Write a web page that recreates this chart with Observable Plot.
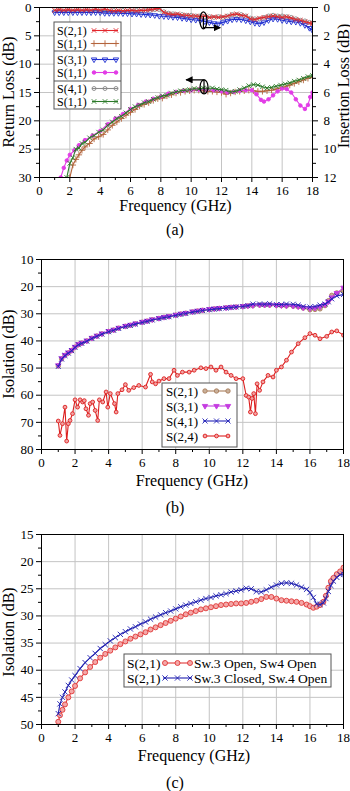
<!DOCTYPE html>
<html><head><meta charset="utf-8">
<script src="https://cdn.jsdelivr.net/npm/d3@7"></script>
<script src="https://cdn.jsdelivr.net/npm/@observablehq/plot@0.6"></script>
<style>
body{margin:0;background:#fff;width:350px;height:791px;position:relative;overflow:hidden;font-family:"Liberation Serif","DejaVu Serif",serif;}
.panel{position:absolute;left:0;width:350px;}
.cap{position:absolute;left:0;width:350px;text-align:center;font-size:16px;line-height:18px;color:#000;}
svg text{font-family:"Liberation Serif","DejaVu Serif",serif !important;}
</style></head><body>
<div id="pa" class="panel" style="top:0px"></div>
<div class="cap" style="top:221px">(a)</div>
<div id="pb" class="panel" style="top:245px"></div>
<div class="cap" style="top:499px">(b)</div>
<div id="pc" class="panel" style="top:520px"></div>
<div class="cap" style="top:774px">(c)</div>
<script>
// ---------- shared ticks ----------
const xMajor = [0,2,4,6,8,10,12,14,16,18];
const xMinor = [1,3,5,7,9,11,13,15,17];
const xLabel = "Frequency (GHz)";

// ---------- panel (a) ----------
const aYMajor = [0,5,10,15,20,25,30];
const aYMinor = [2.5,7.5,12.5,17.5,22.5,27.5];
const aILRatio = 2.5; // right axis 0..12 dB vs left 0..30 dB
const aILFreq = [1.0,1.3,1.6,1.9,2.2,2.5,2.8,3.1,3.4,3.7,4.0,4.3,4.6,4.9,5.2,5.5,5.8,6.1,6.4,6.7,7.0,7.3,7.6,7.9,8.2,8.5,8.8,9.1,9.4,9.7,10.0,10.3,10.6,10.9,11.2,11.5,11.8,12.1,12.4,12.7,13.0,13.3,13.6,13.9,14.2,14.5,14.8,15.1,15.4,15.7,16.0,16.3,16.6,16.9,17.2,17.5,17.8,18.0];
const aS21IL = [0.2,0.15,0.2,0.15,0.2,0.15,0.2,0.15,0.2,0.1,0.2,0.1,0.2,0.25,0.2,0.25,0.2,0.2,0.25,0.2,0.2,0.15,0.1,0.05,0.35,0.45,0.5,0.45,0.55,0.55,0.6,0.6,0.65,0.6,0.7,0.65,0.7,0.65,0.6,0.5,0.45,0.55,0.6,0.8,0.85,0.75,0.7,0.65,0.6,0.65,0.7,0.65,0.75,0.85,0.9,1.0,1.1,1.15];
const aS31IL = [0.35,0.35,0.35,0.35,0.35,0.35,0.35,0.35,0.35,0.35,0.35,0.4,0.4,0.4,0.4,0.42,0.42,0.45,0.45,0.48,0.5,0.52,0.55,0.6,0.62,0.65,0.68,0.7,0.75,0.8,0.85,0.88,0.92,0.98,1.05,1.12,1.15,1.05,0.95,0.85,0.82,0.85,0.92,1.0,1.1,1.15,1.05,0.9,0.8,0.82,0.9,0.95,1.0,1.02,1.1,1.25,1.45,1.62];
const aS41IL = [0.25,0.2,0.25,0.2,0.25,0.2,0.25,0.2,0.25,0.2,0.25,0.2,0.25,0.2,0.25,0.2,0.25,0.25,0.2,0.25,0.2,0.2,0.15,0.15,0.3,0.4,0.45,0.5,0.5,0.55,0.55,0.6,0.6,0.65,0.65,0.7,0.65,0.7,0.6,0.5,0.5,0.5,0.6,0.75,0.8,0.8,0.7,0.6,0.55,0.6,0.6,0.65,0.7,0.8,0.9,0.95,1.05,1.1];
const aRLFreqG = [1.8,2.0,2.2,2.4,2.6,2.8,3.0,3.3,3.6,3.9,4.2,4.5,4.8,5.1,5.4,5.7,6.0,6.3,6.6,6.9,7.2,7.5,7.8,8.1,8.4,8.7,9.0,9.3,9.6,9.9,10.2,10.5,10.8,11.1,11.4,11.7,12.0,12.3,12.6,12.9,13.2,13.5,13.8,14.1,14.4,14.7,15.0,15.3,15.6,15.9,16.2,16.5,16.8,17.1,17.4,17.7,18.0];
const aS11RL_sw4 = [30.0,27.5,26.5,25.0,24.8,24.0,23.8,23.0,22.6,22.0,21.6,20.8,20.2,19.6,19.2,18.6,18.0,17.5,17.2,16.8,16.6,16.2,15.9,15.6,15.5,15.1,14.9,14.7,14.6,14.5,14.3,14.4,14.2,14.3,14.2,14.4,14.5,14.6,14.9,14.8,14.5,14.2,13.8,13.6,13.7,14.0,14.2,14.1,13.9,13.7,13.5,13.3,13.0,12.8,12.5,12.2,12.0];
const aRLFreqB = [2.0,2.2,2.4,2.6,2.8,3.0,3.3,3.6,3.9,4.2,4.5,4.8,5.1,5.4,5.7,6.0,6.3,6.6,6.9,7.2,7.5,7.8,8.1,8.4,8.7,9.0,9.3,9.6,9.9,10.2,10.5,10.8,11.1,11.4,11.7,12.0,12.3,12.6,12.9,13.2,13.5,13.8,14.1,14.4,14.7,15.0,15.3,15.6,15.9,16.2,16.5,16.8,17.1,17.4,17.7,18.0];
const aS11RL_sw2 = [30.0,27.8,26.8,26.0,25.2,24.6,24.0,23.2,22.8,22.4,21.6,20.8,20.2,19.6,19.0,18.5,18.0,17.4,17.1,16.8,16.4,16.1,16.0,15.6,15.4,15.1,15.0,14.8,14.7,14.6,14.6,14.7,14.8,14.8,14.9,15.0,15.3,15.1,14.9,14.8,14.7,14.6,14.7,14.8,14.8,14.7,14.6,14.4,14.2,14.0,13.7,13.4,13.1,12.8,12.5,12.3];
const aRLFreqM = [1.4,1.6,1.8,2.0,2.3,2.6,3.0,3.5,4.0,4.5,5.0,5.5,6.0,6.5,7.0,7.5,8.0,8.5,9.0,9.5,10.0,10.5,11.0,11.5,12.0,12.4,12.8,13.2,13.6,14.0,14.3,14.6,14.8,15.1,15.4,15.7,16.0,16.3,16.6,16.9,17.2,17.5,17.7,17.85,18.0];
const aS11RL_sw3 = [30,28.3,27,26,25.2,24.3,23.4,22.6,21.8,20.6,19.6,18.8,17.9,17.2,16.6,16.1,15.7,15.2,14.9,14.7,14.6,14.5,14.5,14.6,14.8,15.0,14.9,14.7,14.6,14.6,15.3,16.3,16.6,16.2,15.5,14.8,14.3,14.4,15.0,16.2,17.3,17.9,17.2,15.8,15.0];

// ---------- panel (b) ----------
const bYMajor = [10,20,30,40,50,60,70,80];
const bYMinor = [15,25,35,45,55,65,75];
const bFreq = [1.0,1.2,1.4,1.6,1.8,2.0,2.2,2.4,2.7,3.0,3.3,3.6,4.0,4.3,4.6,5.0,5.3,5.6,6.0,6.3,6.6,7.0,7.3,7.6,8.0,8.3,8.6,9.0,9.3,9.6,10.0,10.3,10.6,11.0,11.3,11.6,12.0,12.3,12.6,13.0,13.3,13.6,14.0,14.3,14.6,15.0,15.3,15.6,16.0,16.3,16.6,16.9,17.1,17.3,17.6,18.0];
const bS21 = [49.2,46.6,45.3,44.4,43.5,42.3,41.3,40.8,40.0,39.0,38.2,37.4,36.5,36.0,35.3,34.6,34.2,33.7,33.1,32.7,32.2,31.7,31.3,31.0,30.5,30.1,29.8,29.3,29.0,28.7,28.4,28.2,28.0,27.8,27.6,27.5,27.3,27.1,27.0,26.8,26.8,26.8,26.9,27.0,27.1,27.2,27.4,27.9,28.5,28.4,28.2,27.0,25.2,23.2,22.3,21.4];
const bS31 = [49.0,46.4,45.2,44.3,43.4,42.2,41.2,40.7,39.9,38.9,38.1,37.3,36.4,35.9,35.2,34.5,34.1,33.6,33.0,32.6,32.1,31.6,31.2,30.9,30.4,30.0,29.7,29.2,28.9,28.6,28.3,28.1,27.9,27.7,27.5,27.4,27.2,27.0,26.9,26.7,26.7,26.7,26.8,26.9,27.0,27.1,27.3,27.7,28.0,27.8,27.4,26.6,25.5,24.0,22.4,20.4];
const bS41 = [49.4,46.7,45.4,44.5,43.6,42.4,41.4,40.9,40.1,39.1,38.3,37.5,36.6,36.1,35.4,34.7,34.3,33.8,33.2,32.8,32.3,31.8,31.4,31.1,30.6,30.2,29.9,29.4,29.1,28.8,28.5,28.3,28.1,27.9,27.7,27.5,27.3,27.0,26.4,26.4,26.5,26.3,26.6,26.6,26.4,26.5,26.8,27.3,27.5,27.3,26.8,26.4,25.6,24.5,23.4,22.9];
const bFreq24 = [1.0,1.1,1.25,1.4,1.5,1.6,1.7,1.85,2.0,2.15,2.3,2.45,2.55,2.65,2.8,2.9,3.05,3.2,3.35,3.45,3.65,3.85,3.95,4.1,4.35,4.45,4.55,4.8,5.0,5.2,5.5,5.8,6.2,6.5,6.6,6.8,7.0,7.3,7.6,7.9,8.1,8.4,8.8,9.1,9.5,9.8,10.1,10.4,10.7,11.0,11.3,11.6,12.0,12.2,12.35,12.45,12.55,12.65,12.75,12.85,13.0,13.2,13.5,13.8,14.0,14.3,14.6,14.9,15.3,15.7,16.0,16.3,16.6,17.0,17.3,17.6,18.0];
const bS24 = [69.5,74.8,70.5,64.4,76.9,70.5,69.3,66.8,61.7,64.4,61.7,62.5,62,65,67.4,63.1,62.5,65.6,69.3,61.7,62.5,58.8,64.4,59.4,63.1,66.2,59.4,58,56.1,58.2,57.2,56.4,57,52.3,55.1,55.8,54.8,53.9,53.9,50.8,52.7,51.5,51.5,50.8,49.9,50.2,49.6,50.8,49.6,51.5,52.7,53.9,53.9,60.1,60.7,66.2,61.2,59.4,66.8,55.8,58.2,55.1,52.7,53.3,50.8,49.6,47.1,44.1,41,38.8,37.3,37.9,39.2,38.3,36.7,36.3,37.9];

// ---------- panel (c) ----------
const cYMajor = [15,20,25,30,35,40,45,50];
const cYMinor = [17.5,22.5,27.5,32.5,37.5,42.5,47.5];
const cFreq = [1.0,1.1,1.25,1.4,1.6,1.8,2.0,2.3,2.6,2.9,3.2,3.5,3.8,4.1,4.4,4.7,5.0,5.3,5.6,5.9,6.2,6.5,6.8,7.1,7.4,7.7,8.0,8.3,8.6,8.9,9.2,9.5,9.8,10.1,10.4,10.7,11.0,11.3,11.6,11.9,12.2,12.5,12.8,13.1,13.4,13.7,14.0,14.3,14.6,14.9,15.2,15.5,15.8,16.0,16.2,16.4,16.6,16.8,16.95,17.1,17.25,17.4,17.6,17.8,18.0];
const cOpenOpen = [49.5,48.3,47.3,46.3,45.0,43.9,42.9,41.5,40.4,39.4,38.5,37.7,37.0,36.4,35.8,35.2,34.7,34.2,33.8,33.4,33.0,32.5,32.1,31.7,31.3,30.9,30.5,30.1,29.7,29.4,29.1,28.8,28.6,28.4,28.2,28.0,27.9,27.8,27.7,27.7,27.6,27.4,27.2,26.9,26.5,26.5,26.8,27.1,27.2,27.3,27.4,27.6,27.9,28.2,28.5,28.3,28.0,27.4,26.3,24.8,23.6,23.0,22.3,21.8,21.1];
const cClosedOpen = [48.0,46.2,45.0,44.0,42.8,41.8,41.0,39.7,38.6,37.7,36.9,36.0,35.3,34.6,34.0,33.4,32.9,32.4,32.0,31.5,31.1,30.6,30.2,29.8,29.4,29.1,28.7,28.3,28.0,27.7,27.4,27.1,26.8,26.6,26.3,26.1,25.9,25.6,25.4,25.2,24.9,25.0,25.5,25.6,25.2,24.7,24.3,24.0,23.9,24.0,24.3,24.7,25.1,25.7,26.6,27.8,27.9,27.6,26.8,25.5,24.4,23.6,22.9,22.4,22.3];

// ---------- helpers ----------
const FONT = "'Liberation Serif', 'DejaVu Serif', serif";
const GRID = "#c4c4c4";
function rows(fx, vy, k = 1) { return fx.map((f, i) => ({f, v: vy[i] * k})); }
function series(fx, vy, o) {
  const data = rows(fx, vy, o.k || 1);
  return [
    Plot.line(data, {x: "f", y: "v", stroke: o.stroke, strokeWidth: o.sw || 1.1, clip: true}),
    Plot.dot(data, {x: "f", y: "v", symbol: o.symbol, r: o.r || 2.2, stroke: o.mstroke || o.stroke,
      fill: o.fill || "none", strokeWidth: 0.9, rotate: o.rotate || 0, clip: true})
  ];
}
function base(cfg) {
  const marks = [
    Plot.gridX(xMajor, {stroke: GRID, strokeOpacity: 1}),
    Plot.gridY(cfg.yMajor, {stroke: GRID, strokeOpacity: 1}),
    ...cfg.marks,
    Plot.frame({stroke: "#000", strokeWidth: 1}),
    Plot.axisX(xMajor, {tickSize: 5, tickPadding: 3, label: null}),
    Plot.axisX(xMinor, {tickSize: 3, tickFormat: () => "", label: null}),
    Plot.axisY(cfg.yMajor, {tickSize: 5, tickPadding: 3, label: null}),
    Plot.axisY(cfg.yMinor, {tickSize: 3, tickFormat: () => "", label: null})
  ];
  if (cfg.right) {
    marks.push(Plot.axisY(cfg.yMajor, {anchor: "right", tickSize: 5, tickPadding: 6, label: null, tickFormat: cfg.right}));
    marks.push(Plot.axisY(cfg.yMinor, {anchor: "right", tickSize: 3, tickFormat: () => "", label: null}));
  }
  return Plot.plot({
    width: 350, height: cfg.height,
    marginTop: cfg.mt, marginRight: cfg.mr, marginBottom: cfg.mb, marginLeft: cfg.ml,
    x: {domain: [0, 18]},
    y: {domain: cfg.yDomain, reverse: true},
    style: {fontFamily: FONT, fontSize: "13px", color: "#000", background: "#fff", overflow: "visible"},
    marks
  });
}
function addText(svg, x, y, txt, opts = {}) {
  const t = svg.append("text").attr("x", x).attr("y", y).text(txt)
    .style("font-family", FONT).attr("font-size", opts.size || 16).attr("fill", "#000")
    .attr("text-anchor", opts.anchor || "middle").attr("dominant-baseline", "central");
  if (opts.rotate) t.attr("transform", `rotate(${opts.rotate},${x},${y})`);
  return t;
}
function symbolPath(kind, r) {
  const map = {times: d3.symbolTimes, plus: d3.symbolPlus, circle: d3.symbolCircle, triangle: d3.symbolTriangle};
  return d3.symbol().type(map[kind]).size(Math.PI * r * r)();
}
function legendSample(g, x0, x1, y, o) {
  g.append("line").attr("x1", x0).attr("x2", x1).attr("y1", y).attr("y2", y)
    .attr("stroke", o.stroke).attr("stroke-width", 1.1);
  [x0 + 2, (x0 + x1) / 2, x1 - 2].forEach(x => {
    g.append("path").attr("d", symbolPath(o.symbol, o.r || 2.2))
      .attr("transform", `translate(${x},${y}) rotate(${o.rotate || 0})`)
      .attr("stroke", o.mstroke || o.stroke).attr("fill", o.fill || "none").attr("stroke-width", 0.9);
  });
}

// ---------- styles ----------
const stA = {
  s21: {stroke: "#e2262c", symbol: "times", k: aILRatio},
  s11b: {stroke: "#b4643c", symbol: "plus"},
  s31: {stroke: "#1f2fd0", symbol: "triangle", rotate: 180, fill: "none", r: 2.0, k: aILRatio},
  s11m: {stroke: "#e23ce6", symbol: "circle", fill: "#e23ce6", r: 1.8},
  s41: {stroke: "#8a8a8a", symbol: "circle", r: 2.0, k: aILRatio},
  s11g: {stroke: "#2d7a2a", symbol: "times"}
};

// ---------- panel (a) ----------
{
  const p = base({
    height: 215, mt: 7, mr: 38, mb: 38, ml: 39,
    yDomain: [0, 30], yMajor: aYMajor, yMinor: aYMinor,
    right: d => d / aILRatio,
    marks: [
      ...series(aRLFreqB, aS11RL_sw2, stA.s11b),
      ...series(aRLFreqM, aS11RL_sw3, stA.s11m),
      ...series(aRLFreqG, aS11RL_sw4, stA.s11g),
      ...series(aILFreq, aS41IL, stA.s41),
      ...series(aILFreq, aS31IL, stA.s31),
      ...series(aILFreq, aS21IL, stA.s21)
    ]
  });
  document.getElementById("pa").appendChild(p);
  const svg = d3.select(p);
  const sx = p.scale("x"), sy = p.scale("y");
  addText(svg, 175.5, 205, xLabel);
  addText(svg, 8, 92, "Return Loss (dB)", {rotate: -90});
  addText(svg, 343, 86, "Insertion Loss (dB)", {rotate: -90});
  const ann = svg.append("g").attr("stroke", "#000").attr("fill", "none").attr("stroke-width", 1.2);
  const defs = svg.append("defs");
  defs.append("marker").attr("id", "ah").attr("viewBox", "0 0 10 10").attr("refX", 9).attr("refY", 5)
    .attr("markerWidth", 6).attr("markerHeight", 6).attr("orient", "auto-start-reverse")
    .append("path").attr("d", "M0,0L10,5L0,10z").attr("fill", "#000");
  const e1x = sx.apply(10.84), e1y = sy.apply(0.94 * aILRatio), a1y = sy.apply(1.46 * aILRatio);
  ann.append("ellipse").attr("cx", e1x).attr("cy", e1y).attr("rx", 3.5).attr("ry", 8.5);
  ann.append("path").attr("d", `M${e1x},${e1y - 4}V${a1y}H${sx.apply(11.95)}`).attr("marker-end", "url(#ah)");
  const e2x = sx.apply(10.88), e2y = sy.apply(14.1), a2y = sy.apply(12.85);
  ann.append("ellipse").attr("cx", e2x).attr("cy", e2y).attr("rx", 4).attr("ry", 7);
  ann.append("path").attr("d", `M${e2x},${e2y + 6}V${a2y}H${sx.apply(9.7)}`).attr("marker-end", "url(#ah)");
  const g = svg.append("g");
  g.append("rect").attr("x", 54).attr("y", 22).attr("width", 67).attr("height", 87)
    .attr("fill", "#fff").attr("stroke", "#555").attr("stroke-width", 1);
  g.append("line").attr("x1", 54).attr("x2", 121).attr("y1", 51).attr("y2", 51).attr("stroke", "#555");
  g.append("line").attr("x1", 54).attr("x2", 121).attr("y1", 81).attr("y2", 81).attr("stroke", "#555");
  const ents = [["S(2,1)", stA.s21, 30.5], ["S(1,1)", stA.s11b, 43.5], ["S(3,1)", stA.s31, 59.5],
                ["S(1,1)", stA.s11m, 72.5], ["S(4,1)", stA.s41, 88.5], ["S(1,1)", stA.s11g, 101.5]];
  ents.forEach(([t, o, y]) => {
    addText(g, 57, y, t, {size: 12, anchor: "start"});
    legendSample(g, 92, 118, y, o);
  });
}

// ---------- panel (b) ----------
const stB = {
  s21: {stroke: "#a97e5c", symbol: "circle", fill: "#c9b09a", r: 2.2},
  s31: {stroke: "#c43ce0", symbol: "triangle", rotate: 180, fill: "#c43ce0", r: 2.0},
  s41: {stroke: "#2626b8", symbol: "times", r: 2.4},
  s24: {stroke: "#dc1f1f", symbol: "circle", fill: "#f2a4a4", r: 1.9}
};
{
  const p = base({
    height: 245, mt: 14, mr: 7, mb: 41, ml: 41,
    yDomain: [10, 80], yMajor: bYMajor, yMinor: bYMinor,
    marks: [
      ...series(bFreq24, bS24, stB.s24),
      ...series(bFreq, bS21, stB.s21),
      ...series(bFreq, bS31, stB.s31),
      ...series(bFreq, bS41, stB.s41)
    ]
  });
  document.getElementById("pb").appendChild(p);
  const svg = d3.select(p);
  addText(svg, 192, 235, xLabel);
  addText(svg, 8, 109, "Isolation (dB)", {rotate: -90});
  const g = svg.append("g");
  g.append("rect").attr("x", 162).attr("y", 138).attr("width", 75).attr("height", 64)
    .attr("fill", "#fff").attr("stroke", "#555");
  [["S(2,1)", stB.s21, 146], ["S(3,1)", stB.s31, 161], ["S(4,1)", stB.s41, 176], ["S(2,4)", stB.s24, 191]]
    .forEach(([t, o, y]) => { addText(g, 166, y, t, {size: 13, anchor: "start"}); legendSample(g, 203, 230, y, o); });
}

// ---------- panel (c) ----------
const stC = {
  oo: {stroke: "#e03838", symbol: "circle", fill: "#f4a8a8", r: 2.5},
  co: {stroke: "#2020b0", symbol: "times", r: 2.5}
};
{
  const p = base({
    height: 250, mt: 14, mr: 7, mb: 46, ml: 41,
    yDomain: [15, 50], yMajor: cYMajor, yMinor: cYMinor,
    marks: [
      ...series(cFreq, cOpenOpen, stC.oo),
      ...series(cFreq, cClosedOpen, stC.co)
    ]
  });
  document.getElementById("pc").appendChild(p);
  const svg = d3.select(p);
  addText(svg, 194, 235, xLabel);
  addText(svg, 8, 112, "Isolation (dB)", {rotate: -90});
  const g = svg.append("g");
  g.append("rect").attr("x", 124).attr("y", 134).attr("width", 207).attr("height", 33)
    .attr("fill", "#fff").attr("stroke", "#555");
  [["Sw.3 Open, Sw4 Open", stC.oo, 143], ["Sw.3 Closed, Sw.4 Open", stC.co, 158]].forEach(([t, o, y]) => {
    addText(g, 127, y, "S(2,1)", {size: 13.5, anchor: "start"});
    legendSample(g, 163, 192, y, o);
    addText(g, 194, y, t, {size: 13.5, anchor: "start"});
  });
}
</script>
</body></html>
